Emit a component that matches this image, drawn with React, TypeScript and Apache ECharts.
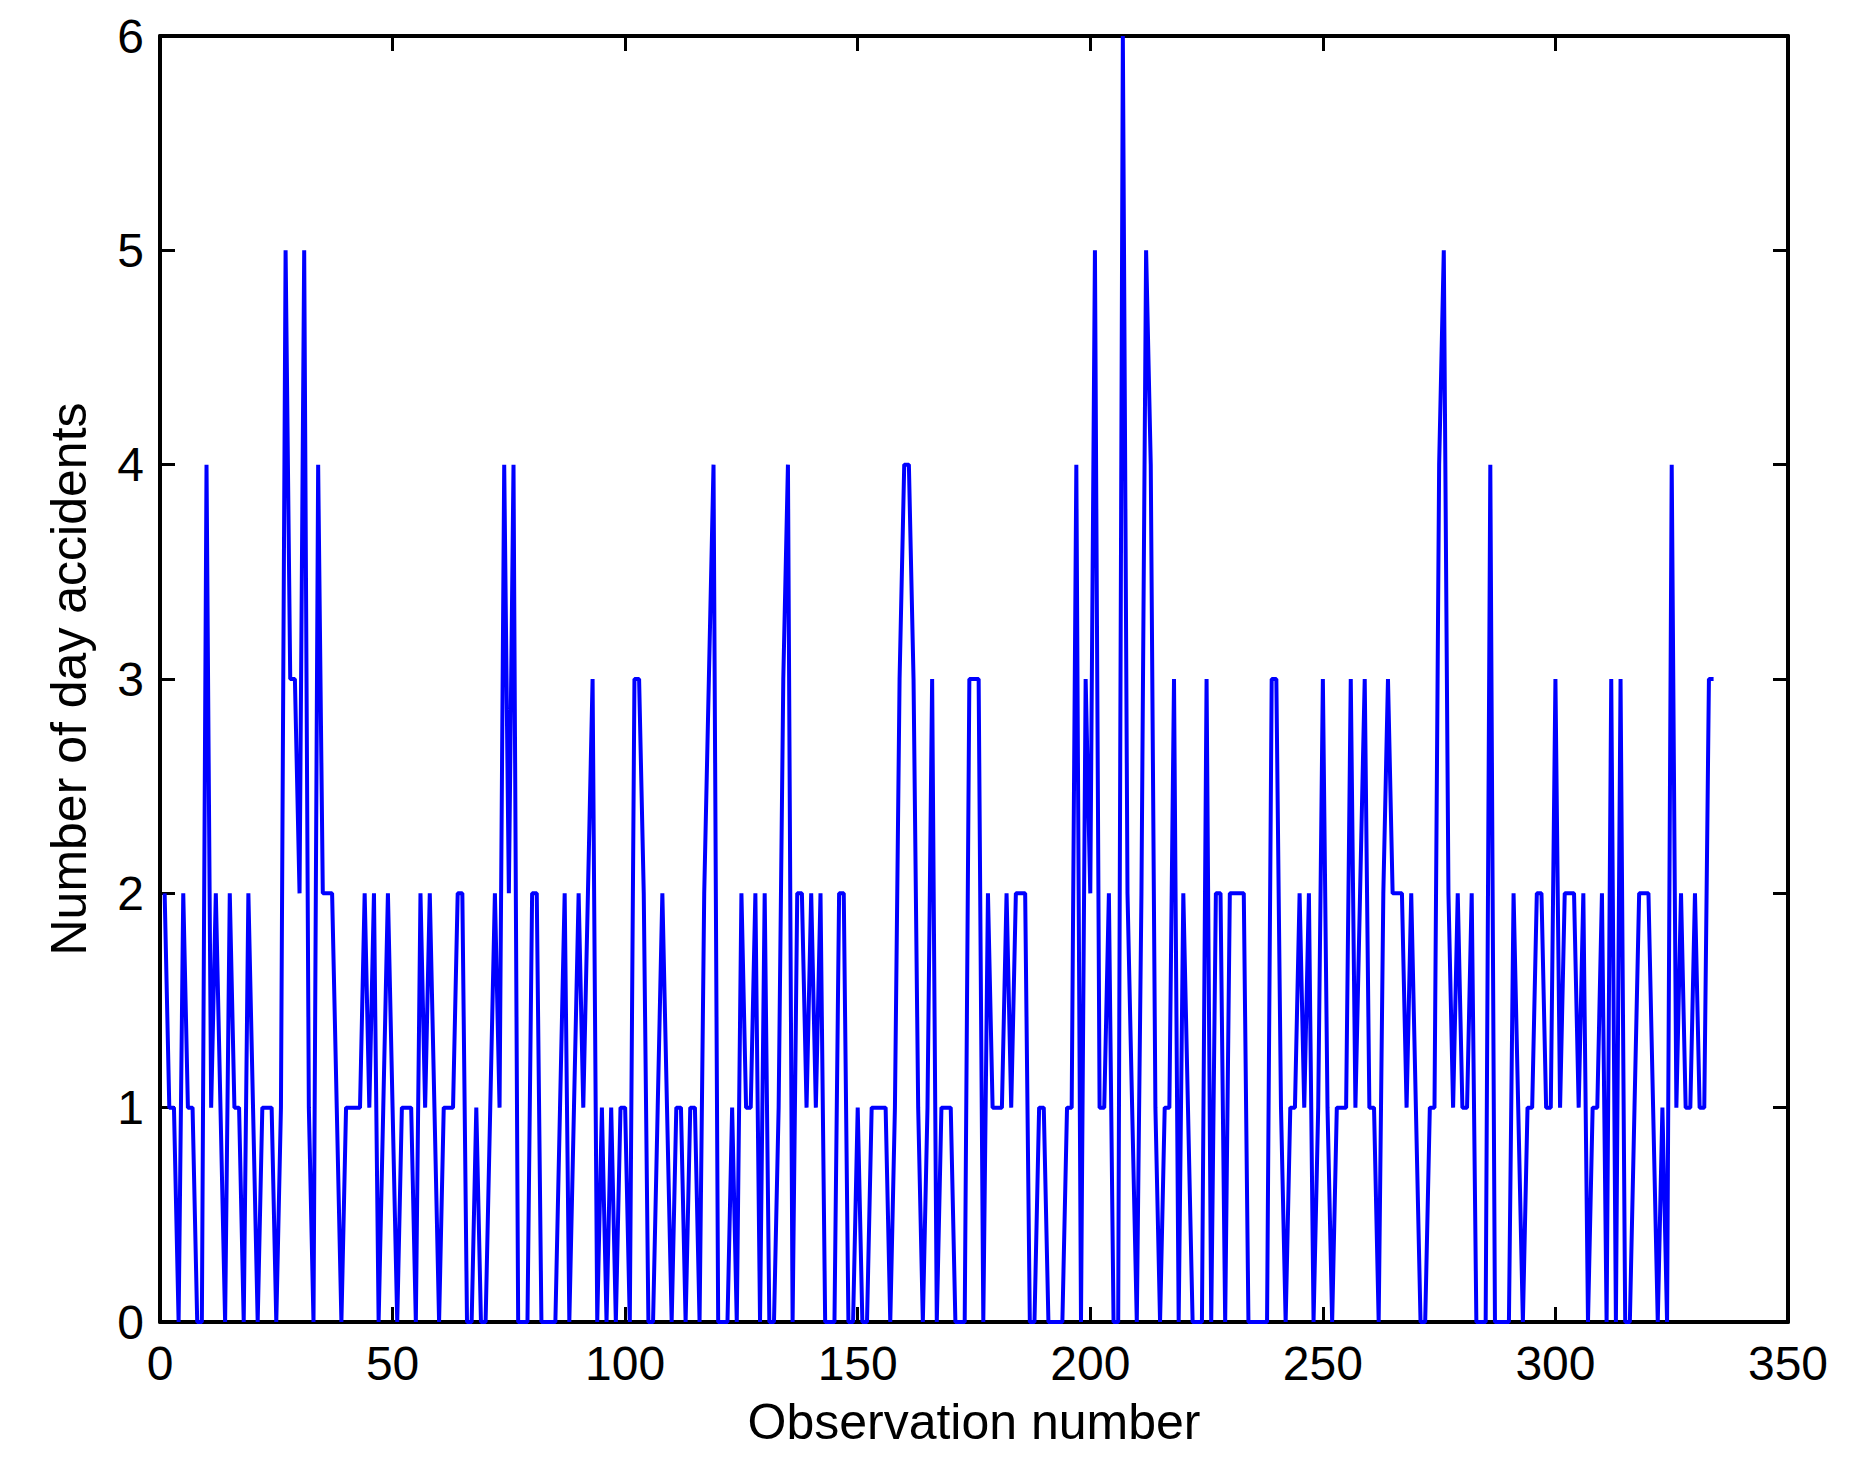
import React, { useEffect, useRef } from "react";
import * as echarts from "echarts";

const accidents: number[] = [
  2, 1, 1, 0, 2, 1, 1, 0, 0, 4, // 1-10
  1, 2, 1, 0, 2, 1, 1, 0, 2, 1, // 11-20
  0, 1, 1, 1, 0, 1, 5, 3, 3, 2, // 21-30
  5, 1, 0, 4, 2, 2, 2, 1, 0, 1, // 31-40
  1, 1, 1, 2, 1, 2, 0, 1, 2, 1, // 41-50
  0, 1, 1, 1, 0, 2, 1, 2, 1, 0, // 51-60
  1, 1, 1, 2, 2, 0, 0, 1, 0, 0, // 61-70
  1, 2, 1, 4, 2, 4, 0, 0, 0, 2, // 71-80
  2, 0, 0, 0, 0, 1, 2, 0, 1, 2, // 81-90
  1, 2, 3, 0, 1, 0, 1, 0, 1, 1, // 91-100
  0, 3, 3, 2, 0, 0, 1, 2, 1, 0, // 101-110
  1, 1, 0, 1, 1, 0, 2, 3, 4, 0, // 111-120
  0, 0, 1, 0, 2, 1, 1, 2, 0, 2, // 121-130
  0, 0, 1, 3, 4, 0, 2, 2, 1, 2, // 131-140
  1, 2, 0, 0, 0, 2, 2, 0, 0, 1, // 141-150
  0, 0, 1, 1, 1, 1, 0, 1, 3, 4, // 151-160
  4, 3, 1, 0, 1, 3, 0, 1, 1, 1, // 161-170
  0, 0, 0, 3, 3, 3, 0, 2, 1, 1, // 171-180
  1, 2, 1, 2, 2, 2, 0, 0, 1, 1, // 181-190
  0, 0, 0, 0, 1, 1, 4, 0, 3, 2, // 191-200
  5, 1, 1, 2, 0, 0, 6, 2, 1, 0, // 201-210
  2, 5, 4, 1, 0, 1, 1, 3, 0, 2, // 211-220
  1, 0, 0, 0, 3, 0, 2, 2, 0, 2, // 221-230
  2, 2, 2, 0, 0, 0, 0, 0, 3, 3, // 231-240
  1, 0, 1, 1, 2, 1, 2, 0, 1, 3, // 241-250
  1, 0, 1, 1, 1, 3, 1, 2, 3, 1, // 251-260
  1, 0, 2, 3, 2, 2, 2, 1, 2, 1, // 261-270
  0, 0, 1, 1, 4, 5, 2, 1, 2, 1, // 271-280
  1, 2, 0, 0, 0, 4, 0, 0, 0, 0, // 281-290
  2, 1, 0, 1, 1, 2, 2, 1, 1, 3, // 291-300
  1, 2, 2, 2, 1, 2, 0, 1, 1, 2, // 301-310
  0, 3, 0, 3, 0, 0, 1, 2, 2, 2, // 311-320
  1, 0, 1, 0, 4, 1, 2, 1, 1, 2, // 321-330
  1, 1, 3, 3,                   // 331-334
];

const xTicks = { min: 0, max: 350, interval: 50 };
const yTicks = { min: 0, max: 6, interval: 1 };

const xTitle = "Observation number";
const yTitle = "Number of day accidents";

const FONT = "'Liberation Sans', Arial, Helvetica, sans-serif";

export default function App() {
  const ref = useRef<HTMLDivElement>(null);

  useEffect(() => {
    if (!ref.current) return;
    const chart = echarts.init(ref.current, undefined, { renderer: "svg" });

    const points = accidents.map((v, i) => [i + 1, v]);

    const axisLine = { show: true, onZero: false, lineStyle: { color: "#000", width: 4 } };
    const axisTick = { show: true, inside: true, length: 15, lineStyle: { color: "#000", width: 3 } };
    const labelStyle = { color: "#000", fontSize: 48, fontFamily: FONT };
    const titleStyle = { color: "#000", fontSize: 50, fontFamily: FONT };

    chart.setOption({
      animation: false,
      backgroundColor: "#fff",
      grid: { left: 160, right: 64, top: 36, bottom: 146, containLabel: false },
      xAxis: [
        {
          type: "value",
          position: "bottom",
          ...xTicks,
          axisLine,
          axisTick,
          splitLine: { show: false },
          axisLabel: { ...labelStyle, margin: 17 },
          name: xTitle,
          nameLocation: "middle",
          nameGap: 75,
          nameTextStyle: { ...titleStyle },
        },
        {
          type: "value",
          position: "top",
          ...xTicks,
          axisLine,
          axisTick,
          splitLine: { show: false },
          axisLabel: { show: false },
        },
      ],
      yAxis: [
        {
          type: "value",
          position: "left",
          ...yTicks,
          axisLine,
          axisTick,
          splitLine: { show: false },
          axisLabel: { ...labelStyle, margin: 16 },
          name: yTitle,
          nameLocation: "middle",
          nameGap: 66,
          nameTextStyle: { ...titleStyle },
        },
        {
          type: "value",
          position: "right",
          ...yTicks,
          axisLine,
          axisTick,
          splitLine: { show: false },
          axisLabel: { show: false },
        },
      ],
      series: [
        {
          type: "line",
          xAxisIndex: 0,
          yAxisIndex: 0,
          data: points,
          symbol: "none",
          showSymbol: false,
          lineStyle: { color: "#0000ff", width: 4 },
          itemStyle: { color: "#0000ff" },
        },
      ],
    });

    return () => chart.dispose();
  }, []);

  return (
    <div
      ref={ref}
      style={{ position: "absolute", left: 0, top: 0, width: 1852, height: 1468, background: "#fff" }}
    />
  );
}
